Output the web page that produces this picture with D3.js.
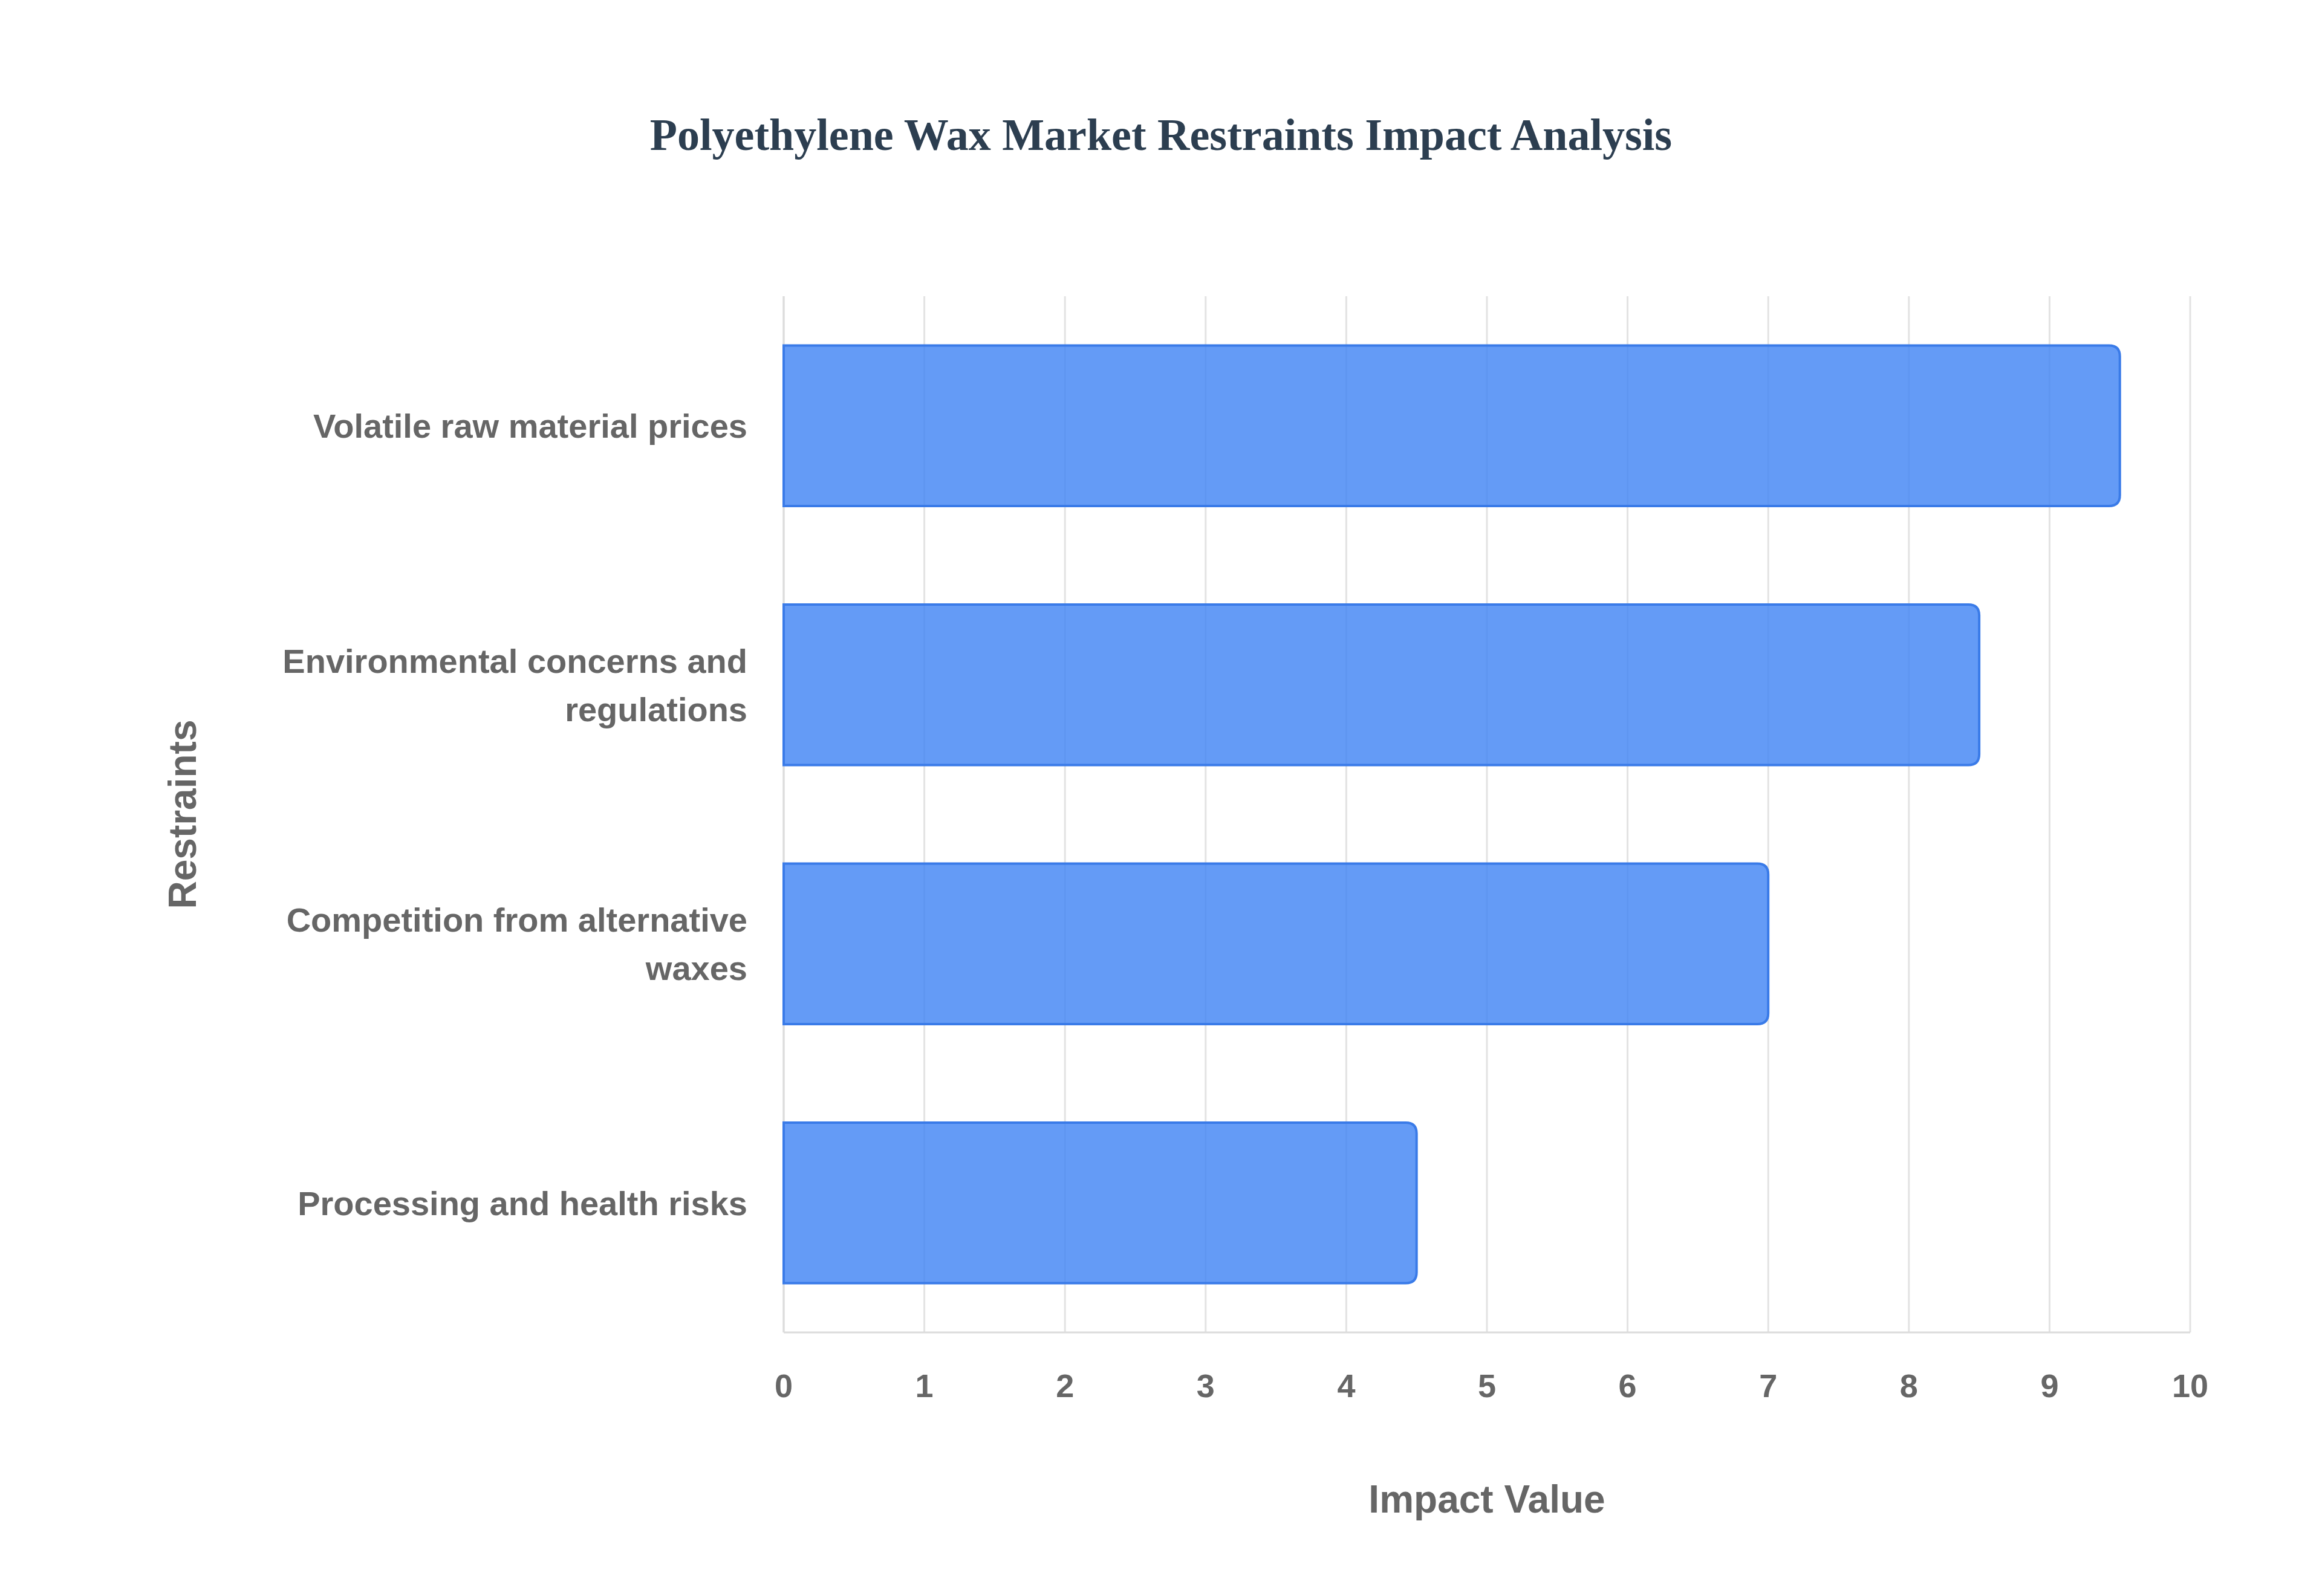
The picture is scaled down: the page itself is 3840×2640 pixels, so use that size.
<!DOCTYPE html>
<html>
<head>
<meta charset="utf-8">
<script src="https://cdn.jsdelivr.net/npm/d3@7"></script>
<style>
  body { margin: 0; background: #fff; }
  text { font-family: "Liberation Sans", Arial, sans-serif; }
</style>
</head>
<body>
<svg id="chart" width="3840" height="2640"></svg>
<script>
var categories = [
  'Volatile raw material prices',
  'Environmental concerns and regulations',
  'Competition from alternative waxes',
  'Processing and health risks'
];
var impactValues = [9.5, 8.5, 7, 4.5];
var xTicks = [0, 1, 2, 3, 4, 5, 6, 7, 8, 9, 10];

var svg = d3.select('#chart');
var margin = { left: 1296, right: 218, top: 490, bottom: 436 };
var width = 3840 - margin.left - margin.right;
var height = 2640 - margin.top - margin.bottom;

var x = d3.scaleLinear().domain([0, 10]).range([0, width]);
var y = d3.scaleBand().domain(categories).range([0, height]).paddingInner(0.38).paddingOuter(0.19);

svg.append('text')
  .attr('x', 1920).attr('y', 248)
  .attr('text-anchor', 'middle')
  .style('font-family', '"Liberation Serif", "Times New Roman", serif')
  .style('font-weight', 'bold').style('font-size', '74px')
  .attr('fill', '#2c3e50')
  .text('Polyethylene Wax Market Restraints Impact Analysis');

var g = svg.append('g').attr('transform', `translate(${margin.left},${margin.top})`);

// grid
g.selectAll('.grid').data(xTicks).enter().append('line')
  .attr('x1', d => x(d)).attr('x2', d => x(d))
  .attr('y1', 0).attr('y2', height)
  .attr('stroke', '#e3e3e3').attr('stroke-width', 3);

// axis lines
g.append('line').attr('x1', 0).attr('x2', width).attr('y1', height).attr('y2', height)
  .attr('stroke', '#dcdcdc').attr('stroke-width', 3);
g.append('line').attr('x1', 0).attr('x2', 0).attr('y1', 0).attr('y2', height)
  .attr('stroke', '#dcdcdc').attr('stroke-width', 3);

// bars, rounded on the right end
var r = 18;
g.selectAll('.bar').data(categories).enter().append('path')
  .attr('d', function(d, i) {
    var w = x(impactValues[i]), y0 = y(d), h = y.bandwidth();
    return `M0,${y0} H${w - r} Q${w},${y0} ${w},${y0 + r} V${y0 + h - r} Q${w},${y0 + h} ${w - r},${y0 + h} H0 Z`;
  })
  .attr('fill', 'rgba(66,133,244,0.82)')
  .attr('stroke', '#3a7be8').attr('stroke-width', 4);

// x tick labels
g.selectAll('.xt').data(xTicks).enter().append('text')
  .attr('x', d => x(d)).attr('y', height + 107)
  .attr('text-anchor', 'middle')
  .style('font-size', '54px').style('font-weight', 'bold')
  .attr('fill', '#666')
  .text(d => d);

// category labels, wrapped
var labels = g.selectAll('.yl').data(categories).enter().append('text')
  .attr('text-anchor', 'end')
  .style('font-size', '56px').style('font-weight', 'bold')
  .attr('fill', '#666');

labels.each(function(d) {
  var t = d3.select(this);
  var words = d.split(' '), lines = [], line = [];
  words.forEach(function(wd) {
    line.push(wd);
    t.text(line.join(' '));
    if (this.getComputedTextLength() > 840 && line.length > 1) {
      line.pop();
      lines.push(line.join(' '));
      line = [wd];
    }
  }, this);
  lines.push(line.join(' '));
  t.text(null);
  var cy = y(d) + y.bandwidth() / 2;
  var lh = 80;
  lines.forEach(function(l, i) {
    t.append('tspan')
      .attr('x', -60)
      .attr('y', cy + (i - (lines.length - 1) / 2) * lh + 20)
      .text(l);
  });
});

// axis titles
svg.append('text')
  .attr('x', margin.left + width / 2).attr('y', 2502)
  .attr('text-anchor', 'middle')
  .style('font-size', '64px').style('font-weight', 'bold')
  .attr('fill', '#666')
  .text('Impact Value');

svg.append('text')
  .attr('transform', `translate(324,${margin.top + height / 2}) rotate(-90)`)
  .attr('text-anchor', 'middle')
  .style('font-size', '64px').style('font-weight', 'bold')
  .attr('fill', '#666')
  .text('Restraints');
</script>
</body>
</html>
